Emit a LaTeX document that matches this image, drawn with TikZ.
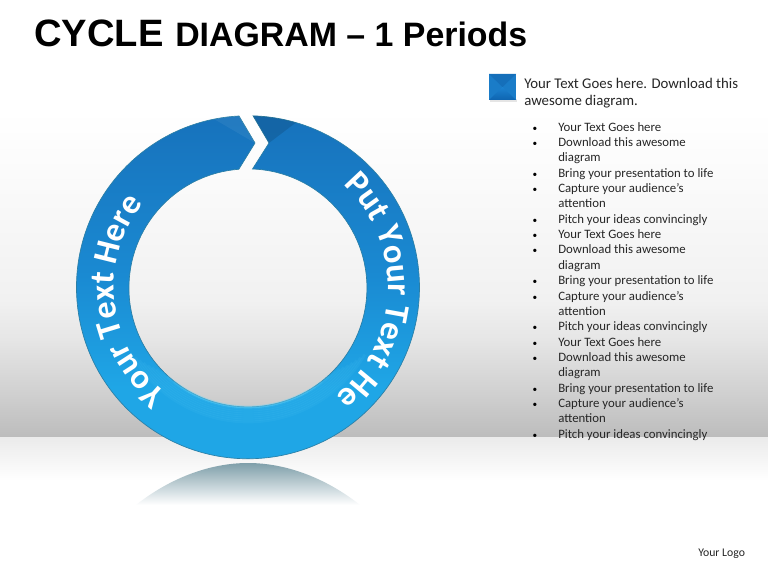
\documentclass[tikz,border=0pt]{standalone}
\usepackage{fontspec}
\setmainfont{Carlito}
\newfontfamily\titlefont{Liberation Sans}
\usetikzlibrary{decorations.text}
\definecolor{wallA}{HTML}{F9F9F9}
\definecolor{wallB}{HTML}{F1F1F1}
\definecolor{wallC}{HTML}{E6E6E6}
\definecolor{wallD}{HTML}{CECECE}
\definecolor{wallE}{HTML}{BCBCBC}
\definecolor{ringTop}{HTML}{1772BC}
\definecolor{ringMid}{HTML}{1A8AD2}
\definecolor{ringBot}{HTML}{1FA6E6}
\definecolor{ringEdge}{HTML}{2B7FA6}
\definecolor{ringGlow}{HTML}{6FDCFF}
\definecolor{inkText}{HTML}{262626}
\definecolor{iconSide}{HTML}{1A7CC8}
\definecolor{iconLow}{HTML}{156FBA}
\definecolor{iconTopA}{HTML}{0E64B0}
\definecolor{iconTopB}{HTML}{1C82D0}
\definecolor{mirror}{HTML}{7F9FAA}
\pgfdeclareverticalshading{wallshade}{100bp}{
  color(0bp)=(wallE);color(25bp)=(wallE);color(31bp)=(wallD);color(40bp)=(wallC);color(46bp)=(wallB);color(61bp)=(wallA);color(75bp)=(white);color(100bp)=(white)}
\pgfdeclareverticalshading{ringshade}{100bp}{
  color(0bp)=(ringBot);color(25bp)=(ringBot);color(36bp)=(ringBot);color(52bp)=(ringMid);color(75bp)=(ringTop);color(100bp)=(ringTop)}
\tikzset{
  x=0.75pt,y=0.75pt,
  listline/.style={anchor=base west,inner sep=0pt,font=\fontsize{9.6pt}{10pt}\selectfont,text=inkText},
  headline/.style={anchor=base west,inner sep=0pt,font=\fontsize{11.1pt}{12pt}\selectfont,text=inkText},
  bulletdot/.style={anchor=base,inner sep=0pt,font=\fontsize{7pt}{8pt}\selectfont,text=black},
  titlepart/.style={anchor=base west,inner sep=0pt,text=black},
  ringlabel/.style={decorate,decoration={text along path,text align={align=center},
    text={|\fontsize{25.8pt}{27pt}\selectfont\bfseries\color{white}|#1}}}
}
\begin{document}
\begin{tikzpicture}
\useasboundingbox (0,0) rectangle (768,576);
\fill[white] (0,0) rectangle (768,576);
% wall and floor
\shade[shading=wallshade] (0,139) rectangle (768,466);
\shade[top color=black!8,bottom color=white] (0,95) rectangle (768,139);
% reflection
\shade[top color=mirror,bottom color=white]
  (136,71) .. controls (170,98) and (210,113) .. (248,113) .. controls (286,113) and (326,98) .. (360,71) -- cycle;
% ring
\shade[shading=ringshade,draw=ringEdge,line width=0.5pt]
  (239,460) arc[start angle=93,end angle=448.3,radius=171.5]
  -- (269,433) -- (252.5,407)
  arc[start angle=447.8,end angle=94.4,radius=119]
  -- (255,433) -- cycle;
% bevels
\fill[black,opacity=.12] (253,460) -- (269,433) -- (296,453.5) arc[start angle=73.7,end angle=88.3,radius=171.5] -- cycle;
\fill[white,opacity=.06] (239,460) -- (255,433) -- (214,457) arc[start angle=101.5,end angle=93,radius=171.5] -- cycle;
\foreach \k in {1,3,...,15}
  \draw[ringGlow,opacity=.07,line width=2pt] (248,289) ++(225-\k:120+\k) arc[start angle=225-\k,end angle=315+\k,radius=120+\k];
\foreach \k in {0,4,...,12}
  \draw[ringGlow,opacity=.12,line width=2pt] (248,289) ++(240-\k:120) arc[start angle=240-\k,end angle=300+\k,radius=120];
% ring labels
\path[ringlabel={Your Text Here}] (248,289) ++(247:134) arc[start angle=247,end angle=127,radius=134];
\path[ringlabel={Put Your Text He}] (248,289) ++(68:140) arc[start angle=68,end angle=-72.4,radius=140];
% title
\node[titlepart,font=\titlefont\bfseries\fontsize{28.6pt}{30pt}\selectfont] (t1) at (34,529) {CYCLE};
\node[titlepart,font=\titlefont\bfseries\fontsize{25.4pt}{27pt}\selectfont] (t2) at (175,529) {DIAGRAM – 1 Periods};
% icon
\fill[black,opacity=.10] (490,474) rectangle (517,477);
\fill[iconSide] (489,502) rectangle (516,476);
\fill[iconLow] (489,502) -- (516,502) -- (502.5,489) -- cycle;
\shade[bottom color=iconTopA,top color=iconTopB] (489,476) -- (516,476) -- (502.5,489) -- cycle;
% heading
\node[headline] (h1) at (524,487.5) {Your Text Goes here. Download this};
\node[headline] (h2) at (524,470.5) {awesome diagram.};
% list
\foreach \n/\ty/\tx in {1/448/Your Text Goes here,2/433/Download this awesome,3/418/diagram,
  4/402/Bring your presentation to life,5/387/Capture your audience’s,6/372/attention,
  7/356/Pitch your ideas convincingly,8/341/Your Text Goes here,9/326/Download this awesome,
  10/310/diagram,11/295/Bring your presentation to life,12/279/Capture your audience’s,
  13/264/attention,14/249/Pitch your ideas convincingly,15/233/Your Text Goes here,
  16/218/Download this awesome,17/203/diagram,18/187/Bring your presentation to life,
  19/172/Capture your audience’s,20/157/attention,21/141/Pitch your ideas convincingly}
  {\node[listline] (line\n) at (558,\ty-3.5) {\tx};}
\foreach \n/\ty in {1/448,2/433,4/402,5/387,7/356,8/341,9/326,11/295,12/279,14/249,15/233,16/218,18/187,19/172,21/141}
  {\node[bulletdot] (dot\n) at (535,\ty-3.5) {•};}
\node[anchor=base west,inner sep=0pt,font=\fontsize{8.8pt}{10pt}\selectfont,text=inkText] (logo) at (698,20) {Your Logo};
\end{tikzpicture}
\end{document}
